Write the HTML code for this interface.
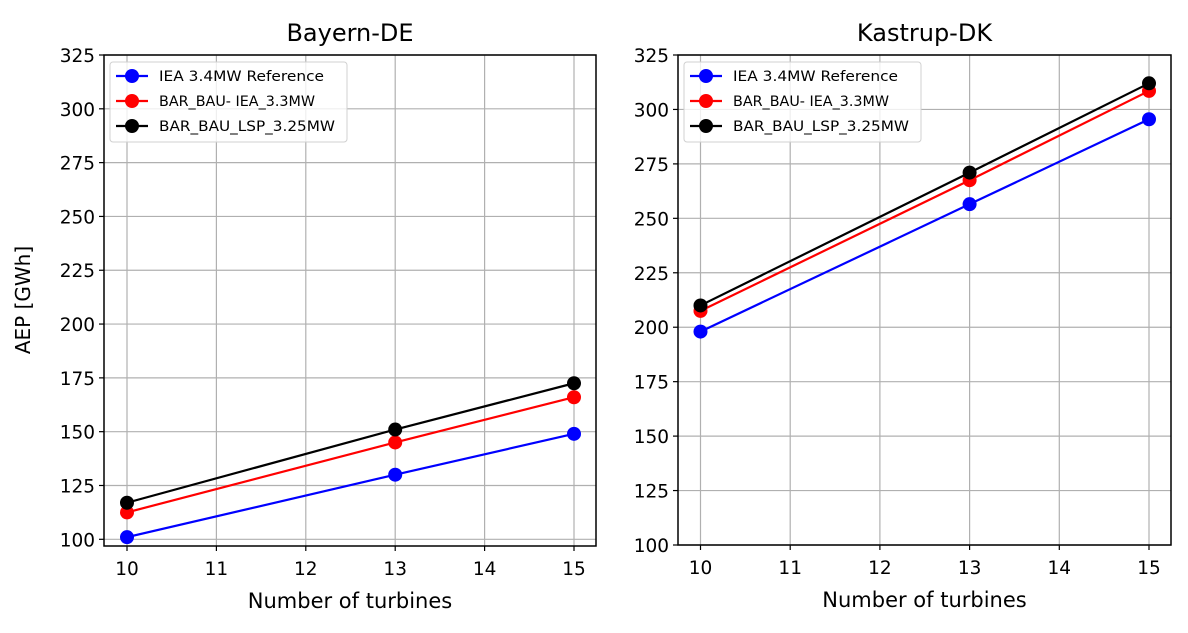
<!DOCTYPE html>
<html><head><meta charset="utf-8"><style>
body{margin:0;background:#fff;}
svg text{font-family:"DejaVu Sans","Liberation Sans",sans-serif;fill:#000;}
</style></head><body>
<svg id="chart" width="1188" height="628" xmlns="http://www.w3.org/2000/svg"></svg>
<script>
const xCategories=[10,13,15];
const xTicks=[10,11,12,13,14,15];
const seriesNames=["IEA 3.4MW Reference","BAR_BAU- IEA_3.3MW","BAR_BAU_LSP_3.25MW"];
const seriesColors=["#0000ff","#ff0000","#000000"];
const bayernBlue=[101,130,149];
const bayernRed=[112.5,145,166];
const bayernBlack=[117,151,172.5];
const kastrupBlue=[198,256.5,295.5];
const kastrupRed=[207.5,267.5,308.5];
const kastrupBlack=[210,271,312];
const yTicks=[100,125,150,175,200,225,250,275,300,325];

const svg=document.getElementById('chart');
const NS="http://www.w3.org/2000/svg";
function mk(tag,attrs,parent){const e=document.createElementNS(NS,tag);for(const k in attrs)e.setAttribute(k,attrs[k]);(parent||svg).appendChild(e);return e;}
const legendWidths=[165,156,176];

function panel(p){
  const g=mk('g',{});
  
  
  const xs=v=>p.x0+(v-10)/5*(p.x1-p.x0);
  const ys=v=>p.y100+(v-100)/225*(p.y325-p.y100);
  xTicks.forEach(t=>{const l=mk('line',{x1:xs(t),x2:xs(t),y1:p.top,y2:p.bottom,stroke:'#b0b0b0','stroke-width':1.2},g);
    
    mk('line',{x1:xs(t),x2:xs(t),y1:p.bottom,y2:p.bottom+5,stroke:'#000','stroke-width':1.2},g);
    const tx=mk('text',{x:xs(t),y:p.bottom+29,'font-size':18.5,'text-anchor':'middle'},g);tx.textContent=t;
    });
  yTicks.forEach(t=>{const y=ys(t);if(y<p.top-1||y>p.bottom+1)return;
    const l=mk('line',{x1:p.left,x2:p.right,y1:y,y2:y,stroke:'#b0b0b0','stroke-width':1.2},g);
    
    mk('line',{x1:p.left-5,x2:p.left,y1:y,y2:y,stroke:'#000','stroke-width':1.2},g);
    const tx=mk('text',{x:p.left-9,y:y+7,'font-size':18.5,'text-anchor':'end'},g);tx.textContent=t;
    });
  p.series.forEach((s,i)=>{
    const pts=xCategories.map((c,j)=>xs(c)+','+ys(s[j])).join(' ');
    const pl=mk('polyline',{points:pts,fill:'none',stroke:seriesColors[i],'stroke-width':2.2},g);
    
    xCategories.forEach((c,j)=>{const m=mk('circle',{cx:xs(c),cy:ys(s[j]),r:7,fill:seriesColors[i]},g);
      });
  });
  const fr=mk('rect',{x:p.left,y:p.top,width:p.right-p.left,height:p.bottom-p.top,fill:'none',stroke:'#000','stroke-width':1.5},g);
  
  const ti=mk('text',{x:(p.left+p.right)/2,y:p.top-14,'font-size':24,'text-anchor':'middle'},g);ti.textContent=p.title;
  
  const xl=mk('text',{x:(p.left+p.right)/2,y:p.bottom+62,'font-size':21,'text-anchor':'middle'},g);xl.textContent='Number of turbines';
  
  const lg=mk('g',{},g);
  
  mk('rect',{x:p.left+6,y:p.top+7,width:237,height:80,rx:3,fill:'#fff','fill-opacity':0.8,stroke:'#d0d0d0'},lg);
  seriesNames.forEach((n,i)=>{const y=p.top+21+i*25;
    const e=mk('g',{},lg);
    
    mk('line',{x1:p.left+12,x2:p.left+44,y1:y,y2:y,stroke:seriesColors[i],'stroke-width':2.2},e);
    mk('circle',{cx:p.left+28,cy:y,r:7,fill:seriesColors[i]},e);
    const t=mk('text',{x:p.left+55,y:y+5,'font-size':14,textLength:legendWidths[i],lengthAdjust:'spacingAndGlyphs'},e);t.textContent=n;});
}
panel({name:'bayern-panel',title:'Bayern-DE',left:104,right:596,top:55,bottom:546,x0:127,x1:574,y100:539.3,y325:55,
  series:[bayernBlue,bayernRed,bayernBlack]});
panel({name:'kastrup-panel',title:'Kastrup-DK',left:678,right:1171,top:55,bottom:545,x0:700.5,x1:1149,y100:545,y325:55,
  series:[kastrupBlue,kastrupRed,kastrupBlack]});
const yl=mk('text',{x:0,y:0,'font-size':20,'text-anchor':'middle',transform:'translate(30,300) rotate(-90)'});
yl.textContent='AEP [GWh]';


</script>
</body></html>
